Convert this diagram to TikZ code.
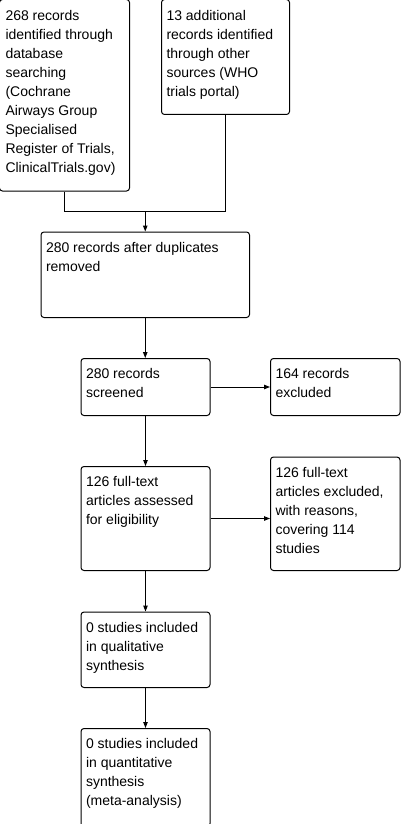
\documentclass[tikz,border=0pt]{standalone}
\usepackage{fontspec}
\setmainfont{Liberation Sans}
\usetikzlibrary{arrows.meta}

\begin{document}
\begin{tikzpicture}[x=1pt,y=-1pt,line width=1pt,
  box/.style={draw,rounded corners=3pt,anchor=north west,inner sep=0pt},
  txt/.style={anchor=north west,inner sep=0pt,align=left,
    font=\fontsize{14}{19}\selectfont},
  arr/.style={-{Triangle[length=6pt,width=4.5pt]}}]
  \useasboundingbox (0,0) rectangle (402,824);
  % boxes
  \node[box,minimum width=130pt,minimum height=191.5pt] (ident) at (-1,-1) {};
  \node[box,minimum width=128pt,minimum height=115pt] (other) at (161,-1) {};
  \node[box,minimum width=208.5pt,minimum height=85.5pt] (dup) at (40.5,231.5) {};
  \node[box,minimum width=129pt,minimum height=57pt] (scr) at (80.5,358) {};
  \node[box,minimum width=129.5pt,minimum height=57pt] (exc) at (270,358) {};
  \node[box,minimum width=129pt,minimum height=104pt] (full) at (80.5,466) {};
  \node[box,minimum width=129.5pt,minimum height=113.5pt] (fexc) at (270,456.5) {};
  \node[box,minimum width=129pt,minimum height=75.5pt] (qual) at (80.5,611.5) {};
  \node[box,minimum width=129pt,minimum height=98pt] (quant) at (80.5,728) {};
  % texts
  \node[txt] (identtxt) at ([shift={(6,11)}]ident.north west)
    {268 records\\identified through\\database\\searching\\(Cochrane\\Airways Group\\Specialised\\Register of Trials,\\ClinicalTrials.gov)};
  \node[txt] (othertxt) at ([shift={(5,11)}]other.north west)
    {13 additional\\records identified\\through other\\sources (WHO\\trials portal)};
  \node[txt] (duptxt) at ([shift={(5,10)}]dup.north west)
    {280 records after duplicates\\removed};
  \node[txt] (scrtxt) at ([shift={(5,10)}]scr.north west) {280 records\\screened};
  \node[txt] (exctxt) at ([shift={(5,10)}]exc.north west) {164 records\\excluded};
  \node[txt] (fulltxt) at ([shift={(5,10)}]full.north west)
    {126 full-text\\articles assessed\\for eligibility};
  \node[txt] (fexctxt) at ([shift={(5,10)}]fexc.north west)
    {126 full-text\\articles excluded,\\with reasons,\\covering 114\\studies};
  \node[txt] (qualtxt) at ([shift={(5,10)}]qual.north west)
    {0 studies included\\in qualitative\\synthesis};
  \node[txt] (quanttxt) at ([shift={(5,10)}]quant.north west)
    {0 studies included\\in quantitative\\synthesis\\(meta-analysis)};
  % connectors
  \coordinate (merge) at (dup.north |- 0,211);
  \draw (ident.south) |- (merge);
  \draw (other.south) |- (merge);
  \draw[arr] (merge) -- (dup.north);
  \draw[arr] (dup.south) -- (dup.south |- scr.north);
  \draw[arr] (scr.east) -- (exc.west);
  \draw[arr] (scr.south) -- (full.north);
  \draw[arr] (full.east) -- (full.east -| fexc.west);
  \draw[arr] (full.south) -- (qual.north);
  \draw[arr] (qual.south) -- (quant.north);
\end{tikzpicture}
\end{document}
